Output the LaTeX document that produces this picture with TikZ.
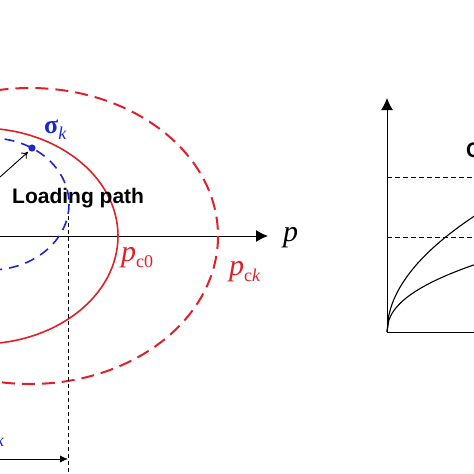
\documentclass[tikz,border=0pt]{standalone}
\usepackage{fontspec}
\setmainfont{Liberation Serif}
\setsansfont{Liberation Sans}
\usetikzlibrary{arrows.meta}
\definecolor{yieldred}{RGB}{222,32,40}
\definecolor{loadblue}{RGB}{28,38,205}
\newcommand{\psub}[1]{\textit{p}\raisebox{-0.22em}{\fontsize{18}{18}\selectfont\upshape #1}}

\begin{document}
\begin{tikzpicture}[x=1pt,y=-1pt,every node/.style={inner sep=0pt},
  ptext/.style={font=\fontsize{30}{32}\selectfont},
  btext/.style={font=\fontsize{21}{24}\selectfont\sffamily\bfseries}]
  \useasboundingbox (0,0) rectangle (474,474);
  \clip (0,0) rectangle (474,474);
 % left: yield surfaces in the p plane
  \coordinate (o) at (0,236);
  \coordinate (pend) at (268,236);
  \draw[line width=1pt,-{Latex[length=12pt,width=12pt]}] (o)--(pend);
  \node[ptext,anchor=base west] (plab) at (283,241) {\textit{p}};
  \draw[yieldred,line width=1.6pt] (-20,236) ellipse [x radius=138,y radius=108];
  \draw[yieldred,line width=2pt,dash pattern=on 13pt off 7pt] (30,236) ellipse [x radius=188,y radius=148];
  \draw[loadblue,line width=1.6pt,dash pattern=on 10pt off 7pt] (-10,204) ellipse [x radius=79,y radius=66];
  \node[ptext,yieldred,anchor=base west] (pc0) at (121,261) {\psub{c0}};
  \node[ptext,yieldred,anchor=base west] (pck) at (229,275) {\psub{c\textit{k}}};
  \fill[loadblue] (32,148) circle (3.6pt) coordinate (sk);
  \node[loadblue,anchor=base west,font=\fontsize{26}{28}\selectfont] (sklab) at (44,133)
    {\textbf{σ}\raisebox{-0.25em}{\fontsize{18}{18}\selectfont\textit{k}}};
  \coordinate (lstart) at (0,177);
  \draw[line width=0.9pt,-{To[length=6pt,width=8pt]}] (lstart)--(28,152);
  \node[btext,anchor=base west] (lpath) at (12,203) {Loading path};
  \coordinate (pk) at (68,216);
  \coordinate (pkbot) at (68,474);
  \draw[line width=0.8pt,dash pattern=on 4pt off 3pt] (pk)--(pkbot);
  \node[loadblue,anchor=base east,font=\fontsize{18}{18}\selectfont\itshape] (klab) at (4,446) {k};
  \coordinate (kstart) at (0,459);
  \draw[line width=0.8pt,-{Latex[length=8pt,width=7pt]}] (kstart)--(68,459);
 % right: curves
  \coordinate (o2) at (387,332);
  \draw[line width=1pt,-{Latex[length=12pt,width=12pt]}] (o2)--(387,98);
  \draw[line width=1pt] (o2)--(474,332);
  \draw[line width=0.8pt,dash pattern=on 5pt off 3pt] (387,177)--(474,177);
  \draw[line width=0.8pt,dash pattern=on 5pt off 3pt] (387,237)--(474,237);
  \draw[line width=1.1pt] plot[domain=0:88,samples=50] ({387+\x},{332-12.4*sqrt(\x)});
  \draw[line width=1.1pt] plot[domain=0:88,samples=50] ({387+\x},{332-9.0*pow(\x,0.45)});
  \node[btext,anchor=base west] (clab) at (466,157) {C};
\end{tikzpicture}
\end{document}
